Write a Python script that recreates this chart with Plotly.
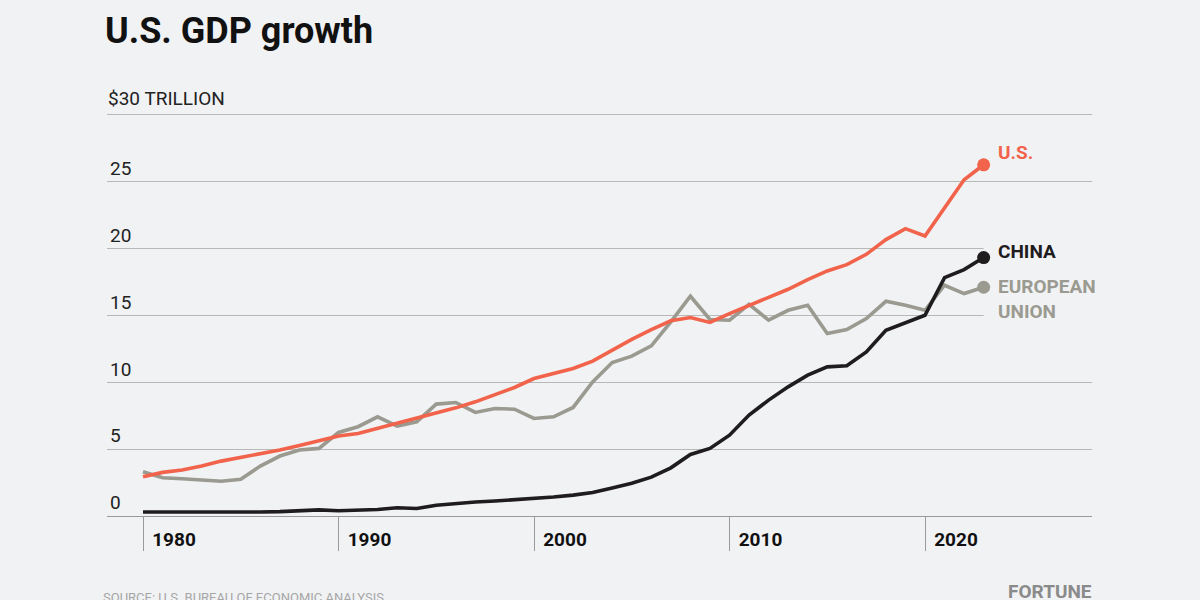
import plotly.graph_objects as go

# ---------------- data ----------------
years = list(range(1980, 2024))

us_gdp = [2.93, 3.26, 3.43, 3.73, 4.10, 4.38, 4.63, 4.93, 5.27, 5.64,
          5.97, 6.17, 6.54, 6.92, 7.34, 7.66, 8.08, 8.53, 9.03, 9.60,
          10.27, 10.65, 11.02, 11.57, 12.39, 13.20, 13.93, 14.58, 14.83, 14.46,
          15.12, 15.75, 16.37, 16.94, 17.66, 18.31, 18.78, 19.55, 20.65, 21.47,
          20.92, 23.05, 25.12, 26.24]

eu_gdp = [3.30, 2.86, 2.78, 2.70, 2.60, 2.74, 3.73, 4.48, 4.93, 5.05,
          6.24, 6.67, 7.41, 6.72, 7.04, 8.36, 8.48, 7.74, 8.03, 7.98,
          7.29, 7.41, 8.11, 10.02, 11.47, 11.94, 12.71, 14.50, 16.42, 14.68,
          14.63, 15.82, 14.63, 15.37, 15.75, 13.63, 13.93, 14.75, 16.04, 15.75,
          15.37, 17.24, 16.62, 17.09]

china_gdp = [0.30, 0.29, 0.28, 0.30, 0.31, 0.31, 0.30, 0.33, 0.42, 0.46,
             0.39, 0.41, 0.49, 0.62, 0.56, 0.80, 0.95, 1.05, 1.12, 1.20,
             1.30, 1.42, 1.56, 1.75, 2.10, 2.45, 2.90, 3.60, 4.60, 5.05,
             6.04, 7.54, 8.66, 9.65, 10.52, 11.14, 11.22, 12.26, 13.88, 14.45,
             15.00, 17.81, 18.41, 19.31]

x_tickvals = [1980, 1990, 2000, 2010, 2020]
x_ticktext = ["1980", "1990", "2000", "2010", "2020"]
y_tickvals = [0, 5, 10, 15, 20, 25, 30]
y_ticktext = ["0", "5", "10", "15", "20", "25", "$30 TRILLION"]

# ---------------- style ----------------
BG = "#f1f2f4"
C_US = "#f1634a"
C_CN = "#1f1c1d"
C_EU = "#9a9a90"
GRID = "#b8b8b8"

W, H = 1200, 600
Y_TOP = 32.5
PX_PER_UNIT = 13.4
L, R, B = 107, 108, 84
T = H - B - Y_TOP * PX_PER_UNIT
plot_w = W - L - R
plot_h = H - T - B


def px2paper(px, py):
    return (px - L) / plot_w, (H - B - py) / plot_h


fig = go.Figure()


def end_sizes(n, s):
    return [0] * (n - 1) + [s]


for name, vals, col in [("EUROPEAN UNION", eu_gdp, C_EU),
                        ("U.S.", us_gdp, C_US),
                        ("CHINA", china_gdp, C_CN)]:
    fig.add_trace(go.Scatter(
        x=years, y=vals, name=name, mode="lines+markers",
        line=dict(color=col, width=3.6),
        marker=dict(size=end_sizes(len(vals), 13), color=col, opacity=1,
                    line=dict(width=0)),
        opacity=1,
        hoverinfo="x+y+name", showlegend=False,
    ))

# mask gridlines behind the CHINA / EU labels
for yv in (20, 15):
    fig.add_shape(type="rect", xref="x", yref="y",
                  x0=years[-1], x1=2029.5, y0=yv - 0.35, y1=yv + 0.35,
                  fillcolor=BG, line=dict(width=0), layer="between")

label_font = dict(family="Roboto", size=19, weight="bold")
fig.add_annotation(x=years[-1], y=27.15, xref="x", yref="y", text="U.S.",
                   showarrow=False, xanchor="left", yanchor="middle", xshift=12,
                   font=dict(**label_font, color=C_US))
fig.add_annotation(x=years[-1], y=19.75, xref="x", yref="y", text="CHINA",
                   showarrow=False, xanchor="left", yanchor="middle", xshift=12,
                   font=dict(**label_font, color=C_CN))
fig.add_annotation(x=years[-1], y=16.25, xref="x", yref="y",
                   text="EUROPEAN<br>UNION", align="left",
                   showarrow=False, xanchor="left", yanchor="middle", xshift=12,
                   font=dict(**label_font, color=C_EU))

# top axis label (unit), kept as a separate text so it does not hide x ticks
ux, uy = px2paper(106, 98)
fig.add_annotation(x=ux, y=uy, xref="paper", yref="paper", text=y_ticktext[-1],
                   showarrow=False, xanchor="left", yanchor="middle",
                   font=dict(family="Roboto", size=19, color="#222222"))

# title
tx, ty = px2paper(103, 30)
fig.add_annotation(x=tx, y=ty, xref="paper", yref="paper", text="U.S. GDP growth",
                   showarrow=False, xanchor="left", yanchor="middle",
                   font=dict(family="Roboto", size=36,
                             weight="bold", color="#111111"))
# source
sx, sy = px2paper(101, 588)
fig.add_annotation(x=sx, y=sy, xref="paper", yref="paper",
                   text="SOURCE: U.S. BUREAU OF ECONOMIC ANALYSIS",
                   showarrow=False, xanchor="left", yanchor="top",
                   font=dict(family="Roboto", size=13, color="#a6a6a6"))
# logo
fx, fy = px2paper(1094, 578)
fig.add_annotation(x=fx, y=fy, xref="paper", yref="paper", text="FORTUNE",
                   showarrow=False, xanchor="right", yanchor="top",
                   font=dict(family="Roboto", size=19,
                             weight="bold", color="#8a8a8a"))

x0 = 1980 - 36 / 19.55
x1 = 1980 + 949 / 19.55

fig.update_layout(
    width=W, height=H,
    margin=dict(l=L, r=R, t=T, b=B, pad=0),
    paper_bgcolor=BG, plot_bgcolor=BG,
    showlegend=False,
    xaxis=dict(range=[x0, x1], tickvals=x_tickvals, ticktext=x_ticktext,
               ticks="outside", ticklen=34, tickwidth=1.2, tickcolor="#9a9a9a",
               showline=True, linecolor="#9a9a9a", linewidth=1.2,
               showgrid=False, zeroline=False,
               ticklabelposition="outside right",
               ticklabelshift=8, ticklabelstandoff=6,
               tickfont=dict(family="Roboto", size=19, weight="bold", color="#111111")),
    yaxis=dict(range=[0, Y_TOP], tickvals=y_tickvals,
               ticktext=y_ticktext[:-1] + [""],
               showgrid=True, gridcolor=GRID, gridwidth=1.2,
               zeroline=False, showline=False, ticks="",
               ticklabelposition="inside top",
               tickfont=dict(family="Roboto", size=19, color="#222222")),
)

fig.write_html("out.html", config={"displayModeBar": False},
               post_script="document.body.style.margin='0';document.body.style.background='%s';" % BG)
